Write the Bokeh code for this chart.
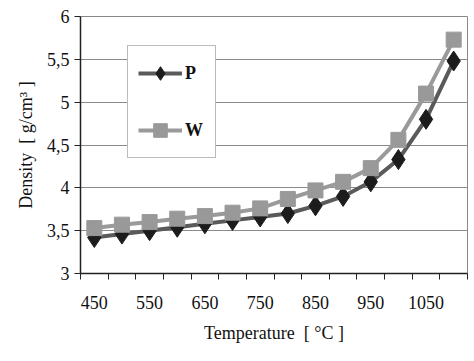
from bokeh.plotting import figure
from bokeh.models import (Range1d, FixedTicker, CustomJSTickFormatter, Legend, LegendItem)
from bokeh.embed import file_html
from bokeh.resources import INLINE

temps = [450, 500, 550, 600, 650, 700, 750, 800, 850, 900, 950, 1000, 1050, 1100]
dens_p = [3.42, 3.46, 3.50, 3.54, 3.58, 3.62, 3.66, 3.70, 3.79, 3.90, 4.07, 4.33, 4.80, 5.48]
dens_w = [3.53, 3.57, 3.60, 3.64, 3.67, 3.71, 3.76, 3.87, 3.97, 4.07, 4.23, 4.56, 5.10, 5.73]
x_labels = [450, 550, 650, 750, 850, 950, 1050]
y_ticks = [3, 3.5, 4, 4.5, 5, 5.5, 6]

FONT = "Liberation Serif"
NB = "\u00a0"

p = figure(width=470, height=353, output_backend="svg", toolbar_location=None,
           x_range=Range1d(425, 1125), y_range=Range1d(3, 6),
           min_border_left=80, min_border_right=3, min_border_top=16, min_border_bottom=80)

p.background_fill_color = "white"
p.outline_line_color = "#888888"
p.outline_line_width = 1

p.xgrid.grid_line_color = None
p.ygrid.grid_line_color = "#8a8a8a"
p.ygrid.grid_line_width = 1

xa = p.xaxis[0]
xa.ticker = FixedTicker(ticks=x_labels, minor_ticks=[t - 25 for t in temps] + [temps[-1] + 25])
xa.major_tick_out = 0
xa.major_tick_in = 0
xa.minor_tick_out = 6
xa.minor_tick_in = 0
xa.minor_tick_line_color = "#222222"
xa.axis_line_color = "#222222"
xa.axis_line_width = 1.5
xa.major_label_text_font = FONT
xa.major_label_text_font_size = "18px"
xa.major_label_text_color = "#111111"
xa.major_label_standoff = 16
xa.axis_label = f"Temperature{NB}{NB}[{NB}°C{NB}]"
xa.axis_label_text_font = FONT
xa.axis_label_text_font_size = "18px"
xa.axis_label_text_font_style = "normal"
xa.axis_label_text_color = "#111111"
xa.axis_label_standoff = 11

ya = p.yaxis[0]
ya.ticker = FixedTicker(ticks=y_ticks, minor_ticks=[])
ya.formatter = CustomJSTickFormatter(code="return tick.toString().replace('.', ',');")
ya.major_tick_out = 6
ya.major_tick_in = 0
ya.major_tick_line_color = "#222222"
ya.axis_line_color = "#222222"
ya.axis_line_width = 1.5
ya.major_label_text_font = FONT
ya.major_label_text_font_size = "18px"
ya.major_label_text_color = "#111111"
ya.major_label_standoff = 5
ya.axis_label = f"Density{NB}{NB}[{NB}g/cm³{NB}]"
ya.axis_label_text_font = FONT
ya.axis_label_text_font_size = "18px"
ya.axis_label_text_font_style = "normal"
ya.axis_label_text_color = "#111111"
ya.axis_label_standoff = 8

lp = p.line(temps, dens_p, line_color="#5a5a5a", line_width=4)
mp = p.scatter(temps, dens_p, marker="diamond", size=20, fill_color="#1c1c1c",
               line_color="#1c1c1c")
lw = p.line(temps, dens_w, line_color="#9a9a9a", line_width=4)
mw = p.scatter(temps, dens_w, marker="square", size=15, fill_color="#999999",
               line_color="#999999")

legend = Legend(items=[LegendItem(label="P", renderers=[lp, mp]),
                       LegendItem(label="W", renderers=[lw, mw])],
                location=(47, 115), orientation="vertical")
legend.label_text_font = FONT
legend.label_text_font_style = "bold"
legend.label_text_font_size = "18px"
legend.label_text_color = "#111111"
legend.glyph_width = 44
legend.glyph_height = 34
legend.label_height = 34
legend.label_standoff = 3
legend.spacing = 23
legend.padding = 10
legend.margin = 0
legend.border_line_color = "#777777"
legend.border_line_width = 1
legend.background_fill_color = "white"
legend.background_fill_alpha = 1
p.add_layout(legend, "center")

open("out.html", "w").write(file_html(p, INLINE))
